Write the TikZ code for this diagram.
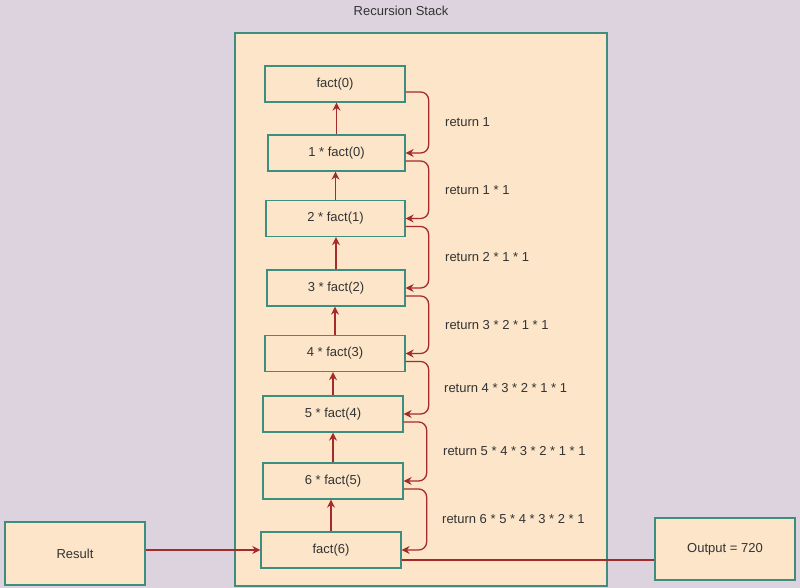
\documentclass[tikz,border=0pt]{standalone}
\usepackage{fontspec}
\setmainfont{Liberation Sans}
\usetikzlibrary{arrows.meta}
\definecolor{bgc}{HTML}{DCD3DF}
\definecolor{boxc}{HTML}{FCE5C8}
\definecolor{edgec}{HTML}{3D8E80}
\definecolor{arrc}{HTML}{A52A2A}
\definecolor{txtc}{HTML}{333333}
\tikzset{
  fbox/.style={draw=edgec,fill=boxc,line width=1.3pt,minimum width=140pt,minimum height=36pt,inner sep=0pt,font=\fontsize{13}{15}\selectfont,text=txtc},
  arr/.style={draw=arrc,line width=1.3pt,-{Stealth[length=8pt,width=8pt]}},
  lbl/.style={anchor=west,font=\fontsize{13}{15}\selectfont,text=txtc}
}
\begin{document}
\begin{tikzpicture}[x=1pt,y=-1pt]
\fill[bgc] (0,0) rectangle (800,588);
\useasboundingbox (0,0) rectangle (800,588);
\node[font=\fontsize{13}{15}\selectfont,text=txtc] (title) at (401,11) {Recursion Stack};
\node[draw=edgec,fill=boxc,line width=1.3pt,minimum width=372pt,minimum height=553pt,inner sep=0pt] (stack) at (421,309.5) {};
\node[fbox] (f0) at (335,84) {fact(0)};
\node[fbox,minimum width=137pt] (f1) at (336.5,153) {1 * fact(0)};
\node[fbox,minimum width=139pt] (f2) at (335.5,218.5) {2 * fact(1)};
\node[fbox,minimum width=138pt] (f3) at (336,288) {3 * fact(2)};
\node[fbox] (f4) at (335,353.5) {4 * fact(3)};
\node[fbox] (f5) at (333,414) {5 * fact(4)};
\node[fbox] (f6) at (333,481) {6 * fact(5)};
\node[fbox] (f7) at (331,550) {fact(6)};
\node[fbox,minimum height=63pt] (res) at (75,553.5) {Result};
\node[fbox,minimum height=62pt] (out) at (725,549) {Output = 720};
\foreach \a/\b in {f7/f6,f6/f5,f5/f4,f4/f3,f3/f2,f2/f1,f1/f0}
  \draw[arr] (\a.north) -- (\a.north |- \b.south);
\foreach \a/\b/\t in {f0/f1/{return 1},f1/f2/{return 1 * 1},f2/f3/{return 2 * 1 * 1},f3/f4/{return 3 * 2 * 1 * 1},f4/f5/{return 4 * 3 * 2 * 1 * 1},f5/f6/{return 5 * 4 * 3 * 2 * 1 * 1},f6/f7/{return 6 * 5 * 4 * 3 * 2 * 1}}{
  \draw[arr,rounded corners=8pt] ([yshift=-8pt]\a.east) -- ++(23,0) |- (\b.east);
  \path ([yshift=-8pt]\a.east) -- (\b.east) node[midway,lbl,xshift=36pt] {\t};
}
\draw[arr] (res.east |- f7) -- (f7.west);
\coordinate (oe) at ([yshift=-10pt]f7.east);
\draw[draw=arrc,line width=1.3pt] (oe) -- (out.west |- oe);
\end{tikzpicture}
\end{document}
